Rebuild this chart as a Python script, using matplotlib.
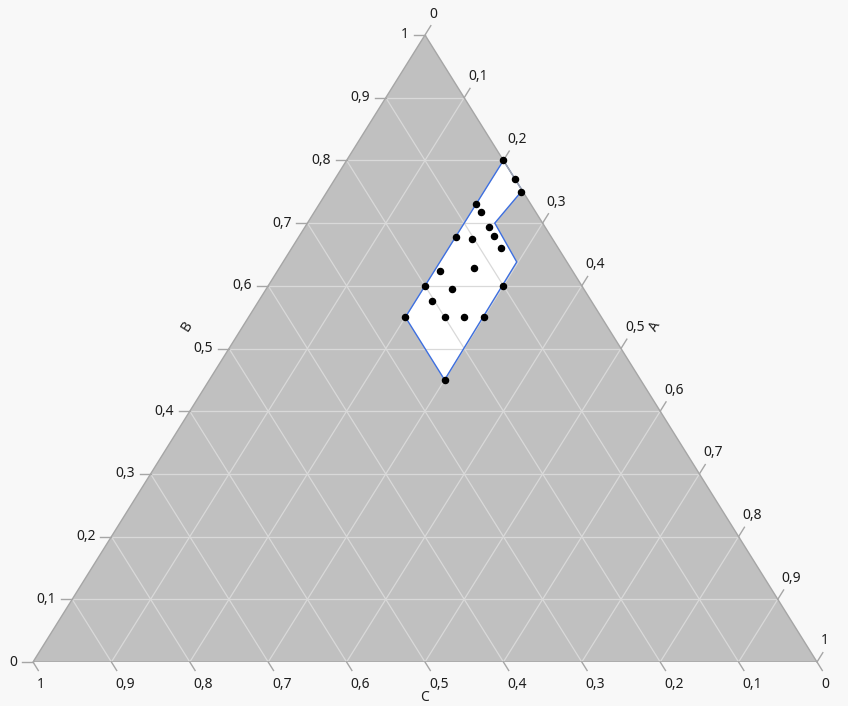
import matplotlib
matplotlib.use("Agg")
import matplotlib.pyplot as plt
from matplotlib.patches import Polygon
import numpy as np

# ---------------- data (A, B, C mixture fractions) ----------------
tick_values = [0, 0.1, 0.2, 0.3, 0.4, 0.5, 0.6, 0.7, 0.8, 0.9, 1]
tick_labels = ["0", "0,1", "0,2", "0,3", "0,4", "0,5", "0,6", "0,7", "0,8", "0,9", "1"]

pts_A = [0.20, 0.23, 0.248, 0.20, 0.2125, 0.234, 0.248, 0.20, 0.223, 0.267,
         0.207, 0.248, 0.20, 0.237, 0.30, 0.222, 0.20, 0.25, 0.275, 0.30, 0.30]
pts_B = [0.80, 0.77, 0.75, 0.73, 0.7175, 0.694, 0.68, 0.678, 0.674, 0.66,
         0.624, 0.628, 0.60, 0.595, 0.60, 0.575, 0.55, 0.55, 0.55, 0.55, 0.45]

region_A = [0.20, 0.248, 0.239, 0.298, 0.30, 0.20]
region_B = [0.80, 0.752, 0.70, 0.638, 0.45, 0.55]

# ---------------- helpers ----------------
def tern(a, b):
    a = np.asarray(a, dtype=float)
    b = np.asarray(b, dtype=float)
    return a + b / 2.0, b

W, H = 848, 706
fig = plt.figure(figsize=(W / 100, H / 100), dpi=100, facecolor="#f8f8f8")
plt.rcParams["font.family"] = ["Noto Sans", "DejaVu Sans"]
# triangle bounding box in pixels: left 33, right 817, top 35, bottom 662
ax = fig.add_axes([33 / W, (H - 662) / H, 784 / W, 627 / H])
ax.set_xlim(0, 1)
ax.set_ylim(0, 1)
ax.axis("off")
ax.set_facecolor("none")

PX = 1 / 784.0  # data units per pixel (x)
PY = 1 / 627.0  # data units per pixel (y)

fill_col = "#c0c0c0"
grid_col = "#d9d9d9"
edge_col = "#a6a6a6"
txt_col = "#1e1e1e"
fs = 10

# triangle
tri = Polygon([tern(0, 0), tern(1, 0), tern(0, 1)], closed=True,
              facecolor=fill_col, edgecolor="none", zorder=1)
ax.add_patch(tri)

# feasible region
rx, ry = tern(region_A, region_B)
reg = Polygon(np.column_stack([rx, ry]), closed=True, facecolor="white",
              edgecolor="none", zorder=2)
ax.add_patch(reg)

# grid
for v in tick_values[1:-1]:
    x, y = tern([0, 1 - v], [v, v])          # constant B
    ax.plot(x, y, color=grid_col, lw=0.9, zorder=3)
    x, y = tern([v, v], [0, 1 - v])          # constant A
    ax.plot(x, y, color=grid_col, lw=0.9, zorder=3)
    x, y = tern([1 - v, 0], [0, 1 - v])      # constant C
    ax.plot(x, y, color=grid_col, lw=0.9, zorder=3)

# region outline
ax.add_patch(Polygon(np.column_stack([rx, ry]), closed=True, facecolor="none",
                     edgecolor="#3d6fe0", lw=1.0, zorder=4))

# triangle edges
ex, ey = tern([0, 1, 0, 0], [0, 0, 1, 0])
ax.plot(ex, ey, color=edge_col, lw=1.0, zorder=4, solid_joinstyle="miter")

# points
px, py = tern(pts_A, pts_B)
ax.plot(px, py, "o", color="black", ms=4.4, zorder=5, clip_on=False)

# ---------------- ticks & labels ----------------
ux, uy = 0.53, 0.848  # unit direction of the slanted tick marks (pixels)
for v, lab in zip(tick_values, tick_labels):
    # left edge: B axis (0 bottom, 1 top)
    x0, y0 = tern(0, v)
    ax.plot([x0, x0 - 11 * PX], [y0, y0], color=edge_col, lw=1.0, clip_on=False, zorder=4)
    ax.annotate(lab, (x0, y0), xytext=(-16, 0), textcoords="offset pixels",
                ha="right", va="center", fontsize=fs, color=txt_col)
    # right edge: A axis (0 top, 1 bottom right)
    x0, y0 = tern(v, 1 - v)
    ax.plot([x0, x0 + 11 * ux * PX], [y0, y0 + 11 * uy * PY], color=edge_col, lw=1.0,
            clip_on=False, zorder=4)
    ax.annotate(lab, (x0, y0), xytext=(4, 21), textcoords="offset pixels",
                ha="left", va="center", fontsize=fs, color=txt_col)
    # bottom edge: C axis (1 left, 0 right)
    x0, y0 = tern(1 - v, 0)
    ax.plot([x0, x0 + 10 * ux * PX], [y0, y0 - 10 * uy * PY], color=edge_col, lw=1.0,
            clip_on=False, zorder=4)
    ax.annotate(lab, (x0, y0), xytext=(4, -22), textcoords="offset pixels",
                ha="left", va="center", fontsize=fs, color=txt_col)

# axis titles
ax.text((187 - 33) * PX, (662 - 326) * PY, "B", rotation=58, ha="center", va="center",
        fontsize=fs, color=txt_col)
ax.text((655 - 33) * PX, (662 - 326) * PY, "A", rotation=60, ha="center", va="center",
        fontsize=fs, color=txt_col)
ax.text(0.5, (662 - 705) * PY, "C", ha="center", va="bottom", fontsize=fs, color=txt_col)

fig.savefig("out.png", dpi=100, facecolor=fig.get_facecolor())
